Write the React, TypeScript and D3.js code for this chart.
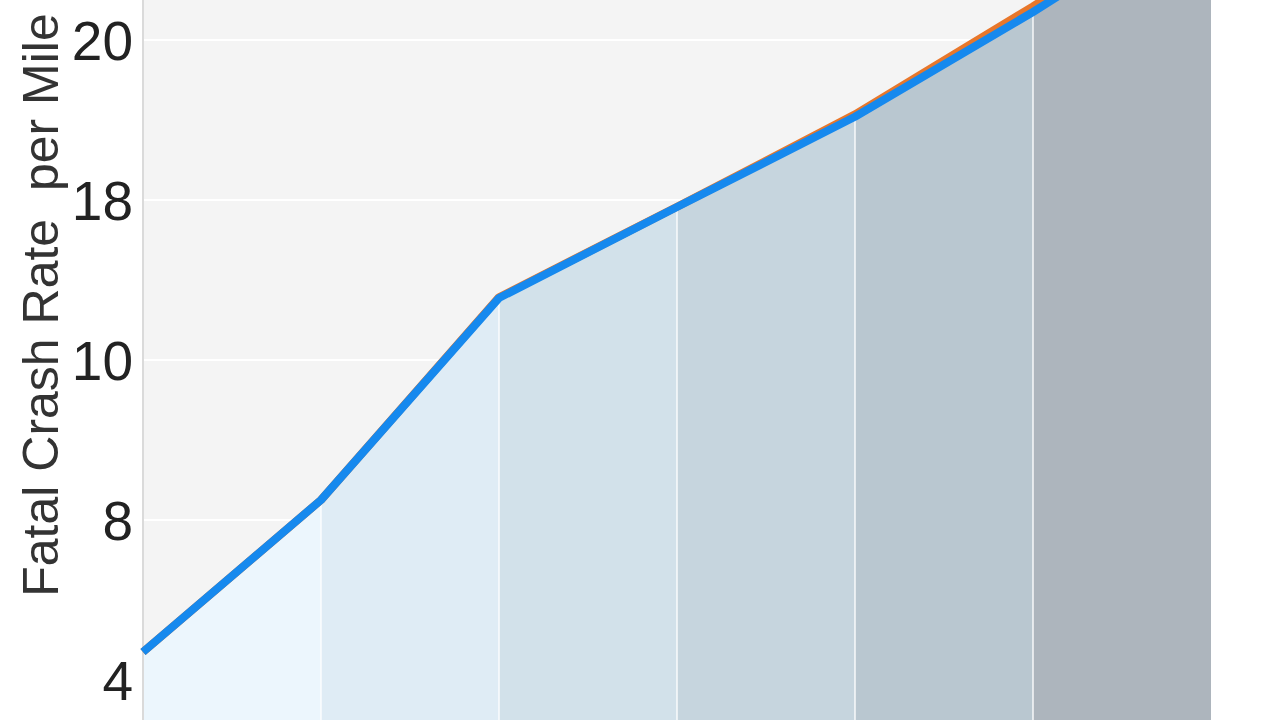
import React, { useEffect, useRef } from 'react'
import * as d3 from 'd3'

// speed bands along the x axis (labels are off-screen in the reference)
const bands = ['b0', 'b1', 'b2', 'b3', 'b4', 'b5', 'b6']
const blueRate = [4.7, 8.25, 13.1, 17.65, 19.04, 20.35, 21.75]
const orangeRate = [4.7, 8.25, 13.14, 17.66, 19.07, 20.42, 21.85]
const yTicks = [4, 8, 10, 18, 20]
const bandColors = ['#ecf6fd', '#dfecf5', '#d2e1ea', '#c6d5de', '#b9c7d0', '#adb5bd']

export default function App() {
  const svgRef = useRef<SVGSVGElement>(null)

  useEffect(() => {
    if (!svgRef.current) return
    const svg = d3.select(svgRef.current)
    svg.selectAll('*').remove()

    const width = 1280
    const height = 720
    const left = 143
    const right = 1211

    const x = d3.scalePoint<string>().domain(bands).range([left, right])
    // uneven tick labels sit on evenly spaced gridlines
    const y = d3.scaleLinear().domain(yTicks).range([680, 520, 360, 200, 40])

    svg.attr('width', width).attr('height', height)

    svg.append('rect').attr('width', width).attr('height', height).attr('fill', '#ffffff')

    // plot background
    svg.append('rect')
      .attr('x', left).attr('y', 0)
      .attr('width', right - left).attr('height', height)
      .attr('fill', '#f4f4f4')

    // gridlines
    svg.append('g')
      .selectAll('line')
      .data(yTicks)
      .join('line')
      .attr('x1', left).attr('x2', right)
      .attr('y1', d => y(d)).attr('y2', d => y(d))
      .attr('stroke', '#ffffff')
      .attr('stroke-width', 2)

    const pts = blueRate.map((v, i) => [x(bands[i])!, y(v)] as [number, number])

    const area = d3.area<[number, number]>()
      .x(d => d[0])
      .y0(height + 10)
      .y1(d => d[1])

    const defs = svg.append('defs')
    bandColors.forEach((c, i) => {
      const x0 = x(bands[i])!
      const x1 = x(bands[i + 1])!
      defs.append('clipPath').attr('id', `band-${i}`)
        .append('rect')
        .attr('x', x0).attr('y', -400)
        .attr('width', x1 - x0).attr('height', height + 800)
      svg.append('path')
        .datum(pts)
        .attr('d', area)
        .attr('fill', c)
        .attr('clip-path', `url(#band-${i})`)
    })

    // white dividers between bands, from the line down
    svg.append('g')
      .selectAll('line')
      .data(bands.slice(1, -1))
      .join('line')
      .attr('x1', d => x(d)!).attr('x2', d => x(d)!)
      .attr('y1', (d, i) => y(blueRate[i + 1]))
      .attr('y2', height)
      .attr('stroke', '#ffffff')
      .attr('stroke-width', 1.5)
      .attr('opacity', 0.9)

    // left axis line
    svg.append('line')
      .attr('x1', left).attr('x2', left)
      .attr('y1', 0).attr('y2', height)
      .attr('stroke', '#dadada')
      .attr('stroke-width', 2)

    const line = d3.line<number>()
      .x((_, i) => x(bands[i])!)
      .y(d => y(d))

    svg.append('path')
      .datum(orangeRate)
      .attr('d', line)
      .attr('fill', 'none')
      .attr('stroke', '#e8772b')
      .attr('stroke-width', 8)
      .attr('stroke-linejoin', 'round')

    svg.append('path')
      .datum(blueRate)
      .attr('d', line)
      .attr('fill', 'none')
      .attr('stroke', '#1689ee')
      .attr('stroke-width', 8)
      .attr('stroke-linejoin', 'round')

    // tick labels
    svg.append('g')
      .selectAll('text')
      .data(yTicks)
      .join('text')
      .attr('x', 133)
      .attr('y', d => y(d))
      .attr('dy', '0.36em')
      .attr('text-anchor', 'end')
      .attr('font-family', '"Liberation Sans", Arial, sans-serif')
      .attr('font-size', 55)
      .attr('fill', '#222222')
      .text(d => d)

    // axis title
    svg.append('text')
      .attr('transform', 'translate(58,305) rotate(-90)')
      .attr('text-anchor', 'middle')
      .attr('font-family', '"Liberation Sans", Arial, sans-serif')
      .attr('font-size', 50)
      .attr('fill', '#333333')
      .style('white-space', 'pre')
      .text('Fatal Crash Rate  per Mile')
  }, [])

  return (
    <svg
      ref={svgRef}
      style={{ position: 'absolute', left: 0, top: 0, display: 'block' }}
    />
  )
}
